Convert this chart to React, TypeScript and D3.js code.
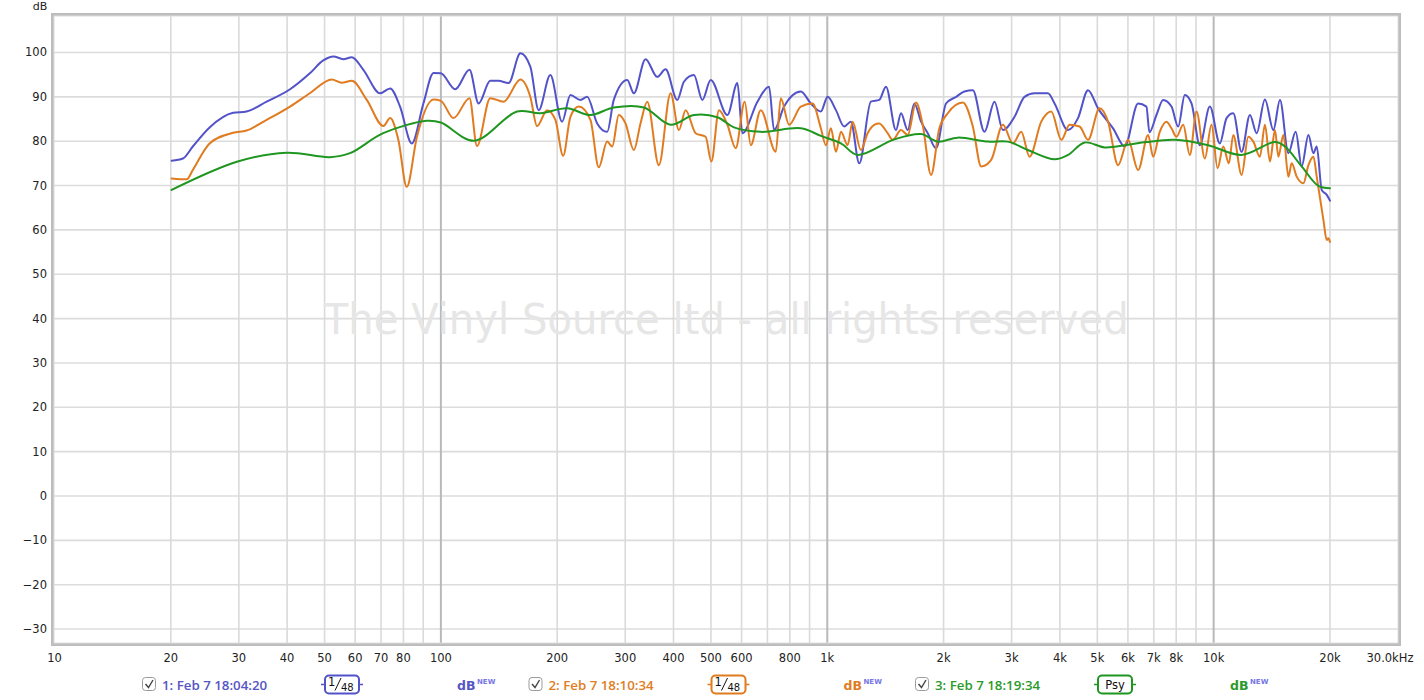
import React from "react";
import * as d3 from "d3";

const W = 1424;
const H = 700;

// ---- axis data ----
const yTicks = [100, 90, 80, 70, 60, 50, 40, 30, 20, 10, 0, -10, -20, -30];
const xGridFreqs = [
  20, 30, 40, 50, 60, 70, 80, 90,
  100, 200, 300, 400, 500, 600, 700, 800, 900,
  1000, 2000, 3000, 4000, 5000, 6000, 7000, 8000, 9000,
  10000, 20000,
];
const xMajorFreqs = [100, 1000, 10000];
const xTickFreqs = [10, 20, 30, 40, 50, 60, 70, 80, 100, 200, 300, 400, 500, 600, 800, 1000, 2000, 3000, 4000, 5000, 6000, 7000, 8000, 10000, 20000];
const xTickLabels = ["10", "20", "30", "40", "50", "60", "70", "80", "100", "200", "300", "400", "500", "600", "800", "1k", "2k", "3k", "4k", "5k", "6k", "7k", "8k", "10k", "20k"];
const xEndLabel = "30.0kHz";

// ---- series 1 (blue) ----
const s1Freq = [
  20.1, 21.5, 22.8, 25.2, 29.0, 31.4, 35.4, 40.7, 45.8, 49.6,
  52.7, 55.9, 58.8, 63.0, 69.6, 73.9, 78.4, 84.1, 90.1, 95.7,
  100, 108.9, 118.6, 125.2, 134.2, 141, 149.7, 160.6, 170.4, 179.1,
  192, 205.9, 216.4, 229.7, 239.1, 253.8, 269.4, 280.2, 303.6, 315.8,
  338.6, 363.1, 381.5, 409.2, 425.6, 451.8, 475, 499.2, 551.5, 585.4,
  603.1, 659.6, 706.9, 728.3, 773.1, 854.2, 906.7, 962.5, 1002, 1053,
  1106, 1151, 1210, 1297, 1363, 1419, 1506, 1552, 1615, 1680,
  1749, 1820, 1912, 2030, 2155, 2264, 2381, 2552, 2709, 2848,
  3052, 3240, 3439, 3726, 3875, 4198, 4456, 4730, 5021, 5492,
  5886, 6376, 6699, 6820, 7111, 7402, 7778, 8095, 8420, 8764,
  9209, 9776, 10377, 10801, 11241, 11812, 12412, 12919, 13575, 14274,
  14847, 15611, 16306, 16900, 17590, 18122, 18483, 19043, 19620, 20000,
];
const s1Db = [
  75.6, 76.1, 78.8, 83.1, 86.4, 86.7, 88.9, 91.7, 95.3, 98.2,
  99.1, 98.5, 98.9, 96.1, 90.8, 91.9, 87.8, 79.5, 88.5, 95.4,
  95.3, 91.7, 96.1, 88.5, 93.6, 93.6, 93.1, 99.8, 96.8, 87.0,
  94.9, 84.4, 90.4, 89.3, 90.0, 84.0, 82.1, 89.3, 93.8, 90.8,
  98.5, 94.5, 96.2, 89.3, 93.4, 94.9, 89.3, 93.8, 85.9, 93.1,
  81.8, 88.9, 92.3, 82.5, 87.8, 91.2, 88.5, 86.7, 90.0, 87.0,
  83.3, 84.4, 75.0, 88.9, 89.3, 92.3, 82.5, 86.3, 82.5, 88.5,
  84.4, 81.8, 78.4, 88.5, 90.0, 91.2, 91.5, 82.1, 88.9, 82.5,
  85.5, 90.0, 90.8, 90.8, 88.5, 82.5, 85.2, 91.5, 87.4, 82.9,
  78.8, 88.5, 87.8, 82.0, 85.9, 89.3, 87.8, 83.3, 90.4, 88.5,
  79.1, 87.8, 79.5, 85.2, 86.3, 77.6, 85.9, 81.8, 89.4, 82.5,
  89.3, 77.3, 82.1, 74.3, 81.4, 77.3, 78.8, 69.0, 67.9, 66.6,
];

// ---- series 2 (orange) ----
const s2Freq = [
  20.1, 22.0, 22.8, 25.2, 29.0, 31.4, 35.4, 40.7, 45.8, 52.2,
  55.4, 58.8, 64.3, 71.0, 73.9, 77.6, 81.6, 86.7, 95.7, 100,
  107.8, 118.6, 124, 134.2, 145.3, 160.6, 170.4, 177.4, 188.3, 197.9,
  207.2, 216.4, 227.4, 243.8, 256.2, 269.4, 277.6, 288.7, 300.5, 315.8,
  328.6, 342, 366.6, 393.1, 413.1, 429.9, 456.4, 484.4, 501.2, 524.5,
  551.5, 579.4, 611.5, 633.8, 672.7, 735.8, 758.1, 796.6, 854.2, 915.9,
  962.5, 991.7, 1022, 1053, 1085, 1129, 1163, 1222, 1272, 1323,
  1363, 1433, 1477, 1552, 1615, 1697, 1766, 1856, 1950, 2051,
  2243, 2381, 2502, 2656, 2848, 3023, 3177, 3338, 3580, 3800,
  4034, 4238, 4499, 4730, 5069, 5330, 5658, 6006, 6376, 6768,
  6973, 7253, 7549, 7778, 8013, 8340, 8676, 9030, 9489, 9875,
  10235, 10590, 10950, 11241, 11812, 12295, 12667, 13176, 13575, 13986,
  14411, 14706, 15151, 15611, 15922, 16404, 17072, 17590, 18122, 18483,
  19238, 19620, 19800, 20000,
];
const s2Db = [
  71.6, 71.4, 73.5, 79.5, 81.9, 82.4, 84.8, 87.8, 90.8, 93.9,
  93.2, 93.6, 89.3, 83.4, 85.2, 80.3, 69.7, 81.0, 89.4, 89.1,
  85.2, 89.7, 78.9, 89.7, 88.9, 93.9, 90.0, 83.4, 87.0, 84.8,
  76.7, 85.5, 87.8, 84.8, 74.1, 79.9, 78.8, 85.9, 84.0, 78.0,
  84.0, 88.9, 74.6, 90.8, 82.5, 87.0, 81.8, 81.0, 75.4, 87.0,
  83.7, 78.4, 88.9, 79.1, 87.0, 77.6, 89.7, 83.7, 87.8, 88.5,
  82.9, 79.1, 82.9, 77.6, 82.1, 79.1, 84.4, 78.0, 81.8, 83.7,
  84.0, 81.8, 80.3, 82.5, 81.4, 88.7, 83.7, 72.4, 82.9, 86.3,
  88.7, 83.3, 74.3, 75.8, 83.7, 79.5, 82.1, 76.5, 84.4, 86.7,
  80.3, 83.7, 83.3, 80.3, 87.4, 84.4, 74.6, 80.3, 73.5, 81.4,
  76.5, 82.1, 84.4, 82.9, 81.0, 83.7, 76.9, 86.7, 76.1, 83.7,
  73.9, 78.8, 75.0, 81.4, 72.4, 81.0, 79.9, 76.5, 83.7, 75.4,
  82.5, 76.5, 81.4, 72.0, 75.0, 72.0, 70.5, 74.6, 76.5, 72.0,
  62.2, 57.7, 58.1, 57.3,
];

// ---- series 3 (green, psychoacoustic smoothing) ----
const s3Freq = [
  20.1, 29.8, 39.9, 51.6, 58.2, 70.9, 92, 100, 122, 157.4,
  180.9, 212.2, 243.8, 280.2, 335.2, 393.1, 451.8, 519.5, 573.6, 672.7,
  854.2, 962.5, 1085, 1198, 1491, 1749, 1932, 2177, 2604, 2934,
  3306, 3875, 4198, 4636, 5223, 6000, 6699, 7933, 9684, 11812,
  14411, 15297, 16900, 18672, 20000,
];
const s3Db = [
  69.0, 75.4, 77.4, 76.4, 77.3, 81.8, 84.6, 84.2, 80.1, 86.7,
  86.3, 87.4, 85.9, 87.6, 87.6, 83.7, 85.9, 85.4, 83.1, 82.1,
  82.9, 81.2, 79.5, 76.9, 80.4, 81.6, 79.9, 80.8, 79.9, 79.9,
  78.0, 75.9, 76.9, 79.7, 78.6, 79.2, 79.8, 80.3, 79.1, 76.9,
  79.8, 78.8, 74.3, 69.9, 69.4,
];

// ---- legend ----
const legendNames = ["1: Feb 7 18:04:20", "2: Feb 7 18:10:34", "3: Feb 7 18:19:34"];
const legendSmoothing = ["1/48", "1/48", "Psy"];
const seriesColors = ["#5252c9", "#e07b1f", "#1f961f"];
const legendTextColors = ["#5555c4", "#e07d24", "#2a9a2a"];
const watermark = "The Vinyl Source ltd - all rights reserved";

const FONT = "'DejaVu Sans', Verdana, sans-serif";

export default function App() {
  const x = d3.scaleLog().domain([10, 30000]).range([54.5, 1398]);
  const y = d3.scaleLinear().domain([-33.6, 108.45]).range([645, 15]);
  const left = 52.5, right = 1399.5, top = 14.5, bottom = 644.5;

  const mkLine = (curve: any) =>
    d3
      .line<[number, number]>()
      .x((d) => x(d[0]))
      .y((d) => y(d[1]))
      .curve(curve);

  const series = [
    { f: s1Freq, v: s1Db, curve: d3.curveMonotoneX },
    { f: s2Freq, v: s2Db, curve: d3.curveMonotoneX },
    { f: s3Freq, v: s3Db, curve: d3.curveCatmullRom.alpha(0.5) },
  ];

  const groupOffsets = [0, 386.5, 773];

  return (
    <div style={{ position: "absolute", left: 0, top: 0 }}>
      <svg width={W} height={H} style={{ display: "block", background: "#fff" }}>
        <rect x={0} y={0} width={W} height={H} fill="#fff" />
        {/* horizontal grid */}
        {yTicks.map((t) => (
          <line key={"h" + t} x1={left} x2={right} y1={y(t)} y2={y(t)} stroke="#dcdcdc" strokeWidth={1.6} />
        ))}
        {/* vertical grid */}
        {xGridFreqs.map((f) => (
          <line
            key={"v" + f}
            x1={x(f)}
            x2={x(f)}
            y1={top}
            y2={bottom}
            stroke={xMajorFreqs.includes(f) ? "#b9b9b9" : "#dadada"}
            strokeWidth={xMajorFreqs.includes(f) ? 2 : 1.6}
          />
        ))}
        {/* watermark */}
        <text
          x={(x(10) + x(30000)) / 2}
          y={y(40) + 15}
          textAnchor="middle"
          fontFamily={FONT}
          fontSize={42}
          fill="#e6e6e6"
          textLength={805}
          lengthAdjust="spacingAndGlyphs"
        >
          {watermark}
        </text>
        {/* frame */}
        <rect x={left} y={top} width={right - left} height={bottom - top} fill="none" stroke="#bdbdbd" strokeWidth={3} />
        <rect x={left + 1.5} y={top + 1.5} width={right - left - 3} height={bottom - top - 3} fill="none" stroke="#dedede" strokeWidth={1} />
        {/* curves */}
        {series.map((s, i) => {
          const pts: [number, number][] = s.f.map((f, k) => [f, s.v[k]]);
          return (
            <path
              key={"s" + i}
              d={mkLine(s.curve)(pts) || ""}
              fill="none"
              stroke={seriesColors[i]}
              strokeWidth={2}
              strokeLinejoin="round"
              strokeLinecap="round"
            />
          );
        })}
        {/* y labels */}
        <text x={40} y={10} textAnchor="middle" fontFamily={FONT} fontSize={11} fill="#222">
          dB
        </text>
        {yTicks.map((t) => (
          <text key={"yl" + t} x={47} y={y(t) + 4} textAnchor="end" fontFamily={FONT} fontSize={11.5} fill="#222">
            {t < 0 ? "\u2212" + Math.abs(t) : String(t)}
          </text>
        ))}
        {/* x labels */}
        {xTickFreqs.map((f, i) => (
          <text key={"xl" + f} x={x(f)} y={662} textAnchor="middle" fontFamily={FONT} fontSize={11.5} fill="#222">
            {xTickLabels[i]}
          </text>
        ))}
        <text x={x(30000) - 8} y={662} textAnchor="middle" fontFamily={FONT} fontSize={11.5} fill="#222">
          {xEndLabel}
        </text>
        {/* legend */}
        {legendNames.map((name, i) => {
          const o = groupOffsets[i];
          const c = seriesColors[i];
          const tc = legendTextColors[i];
          const bx = 325 + o;
          return (
            <g key={"lg" + i}>
              <rect x={142.5 + o} y={677.5} width={13} height={13} rx={3} fill="#fff" stroke="#9a9a9a" strokeWidth={1} />
              <path
                d={`M${145.5 + o},684 L${148.5 + o},687.5 L${153 + o},680`}
                fill="none"
                stroke="#444"
                strokeWidth={1.4}
              />
              <text x={162 + o} y={689.5} fontFamily="'Open Sans', sans-serif" fontWeight={600} fontSize={13.3} fill={tc}>
                {name}
              </text>
              {/* smoothing box */}
              <line x1={bx - 4} x2={bx} y1={684.5} y2={684.5} stroke={c} strokeWidth={1.5} />
              <line x1={bx + 34} x2={bx + 38} y1={684.5} y2={684.5} stroke={c} strokeWidth={1.5} />
              <rect x={bx} y={675.5} width={34} height={18} rx={4} fill="#fff" stroke={c} strokeWidth={2} />
              {legendSmoothing[i] === "Psy" ? (
                <text x={bx + 17} y={688.5} textAnchor="middle" fontFamily={FONT} fontSize={11.5} fill="#111">
                  Psy
                </text>
              ) : (
                <g>
                  <text x={bx + 3} y={686} fontFamily={FONT} fontSize={11.5} fill="#111">
                    {legendSmoothing[i].split("/")[0]}
                  </text>
                  <line x1={bx + 10} y1={690.5} x2={bx + 16} y2={678} stroke="#111" strokeWidth={1} />
                  <text x={bx + 16} y={691} fontFamily={FONT} fontSize={10} fill="#111">
                    {legendSmoothing[i].split("/")[1]}
                  </text>
                </g>
              )}
              <text x={457 + o} y={689.5} fontFamily={FONT} fontWeight="bold" fontSize={12.5} fill={tc}>
                dB
              </text>
              <text x={477 + o} y={684} fontFamily={FONT} fontWeight="bold" fontSize={7} fill="#7676e6">
                NEW
              </text>
            </g>
          );
        })}
      </svg>
    </div>
  );
}
